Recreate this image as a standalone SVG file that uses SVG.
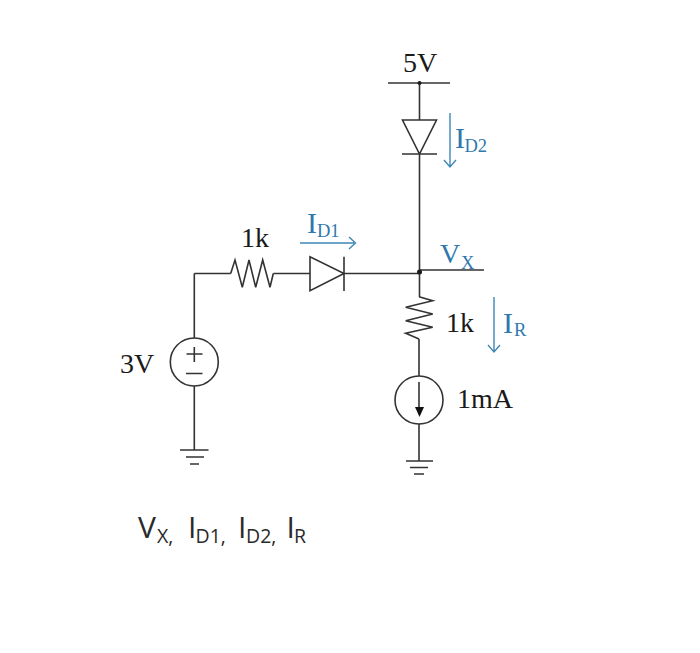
<svg xmlns="http://www.w3.org/2000/svg" width="700" height="653" viewBox="0 0 700 653">
<defs><style>
.w{fill:none;stroke:#333;stroke-width:1.6}
.b{fill:none;stroke:#3f87b5;stroke-width:1.4}
.t{font-family:"Liberation Serif",serif;fill:#1a1a1a;font-size:28px}
.c{font-family:"Liberation Serif",serif;fill:#2f78ae;font-size:30px}
.s{font-size:18.500px}
.q{font-family:"Open Sans","Noto Sans",sans-serif;fill:#2a2a2a;font-size:30px}
.qs{font-size:19.500px}
</style></defs>
<rect width="700" height="653" fill="#fff"/>
<g id="connectors">
<path class="w" d="M419.500 83V120M419.500 154V297M194.300 273.500H230.700M273.300 273.500H310M344 273.500H419.500M419.500 270H484M194.300 273.500V338M194.300 386V450M419 339V376M419 424V461"/>
</g>
<g id="node-5v"><path class="w" d="M388 83H450"/><circle cx="419.500" cy="83" r="2" fill="#1a1a1a"/><text class="t" x="403" y="72">5V</text></g>
<g id="node-d2"><path class="w" d="M402.500 120H436.500L419.500 154ZM402 154H437"/></g>
<g id="label-id2"><path class="b" d="M450 113V167M444 160L450 167L456 160"/><text class="c" x="455" y="148">I<tspan class="s" x="464.500" y="151.500">D2</tspan></text></g>
<g id="node-vx"><circle cx="419.500" cy="272" r="2.500" fill="#1a1a1a"/><text class="c" style="font-size:28px" x="440" y="263">V<tspan class="s" x="461" y="269">X</tspan></text></g>
<g id="node-r1"><path class="w" d="M230.700 273.500L235 260L242.300 287.300L249 260L255.700 287.300L262.700 260L270 287.300L273.300 273.500"/><text class="t" x="241" y="247">1k</text></g>
<g id="node-d1"><path class="w" d="M310 256.700V290.700L344 273.500ZM344 256.700V291"/></g>
<g id="label-id1"><path class="b" d="M300 243H354M349 237L355.500 243L349 249"/><text class="c" x="307" y="233">I<tspan class="s" x="317" y="237">D1</tspan></text></g>
<g id="node-3v"><circle class="w" cx="194.300" cy="362" r="24"/><path class="w" d="M186.500 354H202.500M194.300 347V362M186 373.500H202.500"/><text class="t" x="120" y="373">3V</text></g>
<g id="node-gnd1"><path class="w" d="M180 450H208.500M186 457H204M190 464H199"/></g>
<g id="node-r2"><path class="w" d="M419 296.700L432.700 300.700L405.700 307.300L432.700 314L405.700 320.700L432.700 327.300L405.700 333.300L419 339"/><text class="t" x="446" y="332">1k</text></g>
<g id="label-ir"><path class="b" d="M494 297V352M488 345L494 352L500 345"/><text class="c" x="503" y="333">I<tspan class="s" x="514" y="336">R</tspan></text></g>
<g id="node-1ma"><circle class="w" cx="419" cy="400" r="24"/><path class="w" d="M419 382V410"/><path d="M415 407H424L419.500 417Z" fill="#111"/><text class="t" x="457" y="408">1mA</text></g>
<g id="node-gnd2"><path class="w" d="M406 461H433M410 467.500H428M414 474H424"/></g>
<g id="question"><text class="q" x="138" y="538">V<tspan class="qs" x="157" y="543">X,</tspan><tspan x="188" y="538">I</tspan><tspan class="qs" x="195.500" y="543">D1,</tspan><tspan x="238" y="538">I</tspan><tspan class="qs" x="246" y="543">D2,</tspan><tspan x="286.500" y="538">I</tspan><tspan class="qs" x="294" y="543">R</tspan></text></g>
</svg>
